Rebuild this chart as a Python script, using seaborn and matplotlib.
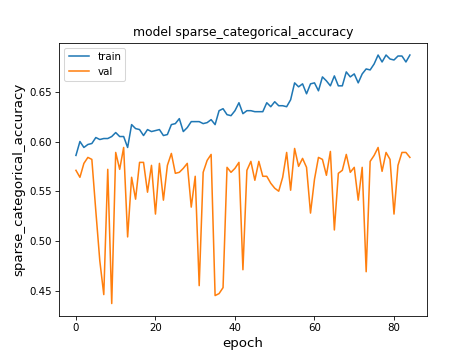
import numpy as np
import pandas as pd
import matplotlib
matplotlib.use("Agg")
import matplotlib.pyplot as plt
import seaborn as sns

title = "model sparse_categorical_accuracy"
x_label = "epoch"
y_label = "sparse_categorical_accuracy"
series_names = ["train", "val"]

train = [0.586, 0.600, 0.594, 0.597, 0.598, 0.604, 0.602, 0.603, 0.603, 0.605,
         0.609, 0.605, 0.605, 0.594, 0.617, 0.613, 0.612, 0.606, 0.612, 0.610,
         0.611, 0.612, 0.606, 0.607, 0.617, 0.618, 0.623, 0.610, 0.614, 0.620,
         0.620, 0.620, 0.618, 0.619, 0.622, 0.617, 0.631, 0.633, 0.627, 0.626,
         0.631, 0.639, 0.628, 0.631, 0.631, 0.630, 0.630, 0.630, 0.639, 0.635,
         0.640, 0.636, 0.636, 0.635, 0.642, 0.659, 0.655, 0.658, 0.648, 0.658,
         0.659, 0.651, 0.665, 0.661, 0.656, 0.666, 0.656, 0.656, 0.670, 0.665,
         0.668, 0.659, 0.668, 0.673, 0.672, 0.678, 0.687, 0.680, 0.687, 0.683,
         0.682, 0.686, 0.686, 0.680, 0.687]

val = [0.571, 0.564, 0.578, 0.584, 0.582, 0.530, 0.480, 0.446, 0.572, 0.437,
       0.589, 0.572, 0.594, 0.504, 0.564, 0.542, 0.579, 0.579, 0.549, 0.576,
       0.527, 0.578, 0.541, 0.576, 0.588, 0.568, 0.569, 0.573, 0.578, 0.534,
       0.565, 0.455, 0.569, 0.581, 0.587, 0.445, 0.447, 0.453, 0.574, 0.569,
       0.573, 0.579, 0.471, 0.571, 0.580, 0.561, 0.580, 0.565, 0.565, 0.558,
       0.553, 0.550, 0.564, 0.589, 0.551, 0.593, 0.575, 0.583, 0.574, 0.528,
       0.562, 0.584, 0.582, 0.566, 0.590, 0.511, 0.568, 0.571, 0.587, 0.569,
       0.574, 0.541, 0.574, 0.469, 0.580, 0.586, 0.594, 0.570, 0.589, 0.582,
       0.527, 0.576, 0.589, 0.589, 0.584]

epochs = list(range(len(train)))

df = pd.DataFrame({
    "epoch": epochs * 2,
    "value": train + val,
    "series": [series_names[0]] * len(train) + [series_names[1]] * len(val),
})

fig, ax = plt.subplots(figsize=(474 / 74, 355 / 74), dpi=74)
sns.lineplot(data=df, x="epoch", y="value", hue="series",
             palette=["#1f77b4", "#ff7f0e"], ax=ax, linewidth=1.5)
ax.set_title(title)
ax.set_xlabel(x_label, fontsize=13)
ax.set_ylabel(y_label, fontsize=13)
ax.set_xticks([0, 20, 40, 60, 80])
ax.legend(loc="upper left")
fig.savefig("out.png", dpi=74)
